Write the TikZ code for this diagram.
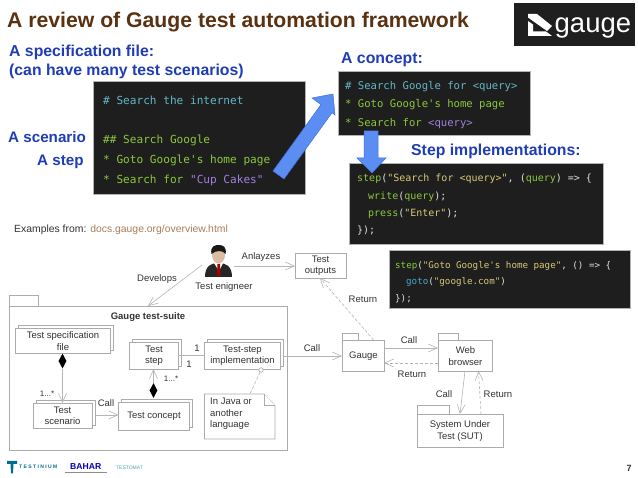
\documentclass[tikz,border=0pt]{standalone}
\usepackage{fontspec}
\setmainfont{Liberation Sans}
\newfontfamily\codefont{DejaVu Sans Mono}
\usetikzlibrary{arrows.meta,shapes.geometric}
\definecolor{titlecol}{HTML}{5A3212}
\definecolor{bluelab}{HTML}{1F3DB4}
\definecolor{codebg}{HTML}{1E1E1E}
\definecolor{cheading}{HTML}{62B8C8}
\definecolor{cgreen}{HTML}{8CC83C}
\definecolor{cpurple}{HTML}{A080E0}
\definecolor{cstr}{HTML}{D8C878}
\definecolor{cblue}{HTML}{4AA8D0}
\definecolor{cwhite}{HTML}{E0E0E0}
\definecolor{umlline}{HTML}{B4B4B4}
\definecolor{umlbox}{HTML}{ABABAB}
\definecolor{umltext}{HTML}{333333}
\definecolor{arrowfill}{HTML}{5B8DF2}
\definecolor{arrowedge}{HTML}{3F70D8}
\definecolor{linkcol}{HTML}{A88058}
\tikzset{
  x=1pt,y=-1pt,
  titletext/.style={anchor=base west,inner sep=0,font=\fontsize{21.2}{21.2}\selectfont\bfseries,text=titlecol},
  bluetext/.style={anchor=base west,inner sep=0,font=\fontsize{15.8}{16}\selectfont\bfseries,text=bluelab},
  bluesmall/.style={bluetext,font=\fontsize{15.2}{16}\selectfont\bfseries},
  codepanel/.style={fill=codebg,draw=gray!60,line width=.4pt},
  codeline/.style={anchor=base west,inner sep=0},
  umllab/.style={inner sep=0,font=\fontsize{9.5}{11.5}\selectfont,text=umltext,align=center},
  umlb/.style={draw=umlbox,fill=white,line width=.6pt},
  conn/.style={draw=umlline,line width=.6pt},
  openarr/.style={conn,-{Straight Barb[length=9pt,width=8pt]}},
  retn/.style={openarr,dash pattern=on 3pt off 2pt},
  bigarrow/.style={fill=arrowfill,draw=arrowedge,line width=.5pt},
  blackdiamond/.style={diamond,fill=black,inner sep=0,minimum width=8pt,minimum height=15pt,draw=none,aspect=.5}
}
\newcommand{\stackbox}[5]{% name, x1,y1,x2,y2
  \draw[umlb] (#2+3,#3-3) rectangle (#4+3,#5-3);
  \draw[umlb] (#2,#3) rectangle (#4,#5);
  \coordinate (#1) at ({(#2+#4)/2},{(#3+#5)/2});
}
\begin{document}
\begin{tikzpicture}
\useasboundingbox (0,0) rectangle (638,478);
\fill[white] (0,0) rectangle (638,478);

% Title + logo
\node[titletext] (title) at (7,27.5) {A review of Gauge test automation framework};
\fill[black!88] (514,3) rectangle (635,46);
\fill[white] (528,14) -- (537,14) -- (552,26) -- (547,31) -- (528,17.5) -- cycle;
\fill[white] (528,21) -- (533,24.5) -- (533,31.5) -- (546,31.5) -- (552,36) -- (528,36) -- cycle;
\node[anchor=base west,inner sep=0,text=white,font=\fontsize{27.5}{27.5}\selectfont] (logo) at (554.5,33) {gauge};

% Blue labels
\node[bluetext] (l1) at (9,56.5) {A specification file:};
\node[bluetext] (l2) at (9,76) {(can have many test scenarios)};
\node[bluesmall] (l3) at (8,142.5) {A scenario};
\node[bluesmall] (l4) at (37,165.5) {A step};
\node[bluetext] (l5) at (341,63.5) {A concept:};
\node[bluetext] (l6) at (411,155.5) {Step implementations:};

% Code panels
\filldraw[codepanel] (93,81) rectangle (305,194);
\filldraw[codepanel] (338,71) rectangle (530,135);
\filldraw[codepanel] (349,163) rectangle (603,244);
\filldraw[codepanel] (389,250) rectangle (630,308);

\begin{scope}[every node/.append style={codeline,font=\fontsize{11.1}{11.1}\selectfont\codefont}]
\node[text=cheading] (a1) at (103,105) {\# Search the internet};
\node[text=cgreen] (a2) at (103,144) {\#\# Search Google};
\node[text=cgreen] (a3) at (103,164) {* Goto Google's home page};
\node[text=cgreen] (a4) at (103,183.5) {* Search for \textcolor{cpurple}{"Cup Cakes"}};
\end{scope}
\begin{scope}[every node/.append style={codeline,font=\fontsize{10.6}{10.6}\selectfont\codefont}]
\node[text=cheading] (b1) at (345,90) {\# Search Google for <query>};
\node[text=cgreen] (b2) at (345,108) {* Goto Google's home page};
\node[text=cgreen] (b3) at (345,127) {* Search for \textcolor{cpurple}{<query>}};
\end{scope}
\begin{scope}[every node/.append style={codeline,font=\fontsize{10}{10}\selectfont\codefont}]
\node[text=cwhite] (c1) at (357,182) {\textcolor{cgreen}{step}(\textcolor{cstr}{"Search for <query>"}, (\textcolor{cgreen}{query}) => \{};
\node[text=cwhite] (c2) at (368,199.5) {\textcolor{cgreen}{write}(\textcolor{cgreen}{query});};
\node[text=cwhite] (c3) at (368,217) {\textcolor{cgreen}{press}(\textcolor{cstr}{"Enter"});};
\node[text=cwhite] (c4) at (357,234) {\});};
\end{scope}
\begin{scope}[every node/.append style={codeline,font=\fontsize{9.2}{9.2}\selectfont\codefont}]
\node[text=cwhite] (d1) at (395,268.5) {\textcolor{cgreen}{step}(\textcolor{cstr}{"Goto Google's home page"}, () => \{};
\node[text=cwhite] (d2) at (406,285) {\textcolor{cblue}{goto}(\textcolor{cstr}{"google.com"})};
\node[text=cwhite] (d3) at (395,301.5) {\});};
\end{scope}

% Big arrows
\filldraw[bigarrow] (273,171) -- (284,179) -- (332,112.8) -- (335,115) -- (333,94) -- (312,98) -- (321,104.6) -- cycle;
\filldraw[bigarrow] (364,131) -- (378,131) -- (378,158) -- (386,158) -- (372,173) -- (357,158) -- (364,158) -- cycle;

% Examples
\node[anchor=base west,inner sep=0,font=\fontsize{10.4}{10.4}\selectfont,text=umltext] (ex) at (14,233) {Examples from: \textcolor{linkcol}{docs.gauge.org/overview.html}};

% Page number
\node[anchor=base,inner sep=0,font=\fontsize{9}{9}\selectfont\bfseries,text=umltext] (pg) at (629,472) {7};

% Test engineer person
\fill[black!85] (205,277) .. controls (205,266) and (211,263) .. (218,263) .. controls (226,263) and (232,266) .. (232,277) -- cycle;
\fill[white] (214,263) -- (223,263) -- (219,271) -- cycle;
\fill[red!65!black] (217.5,264) -- (220,264) -- (220.5,275) -- (219,277) -- (217,275) -- cycle;
\fill[orange!25!white!85!black] (218.5,255) ellipse (6.5pt and 8.5pt);
\fill[black!90] (211.5,254) .. controls (210,246) and (215,245) .. (219,245) .. controls (223,245) and (227,247) .. (225.5,254) .. controls (223,250) and (216,250) .. (211.5,254) -- cycle;

% Outputs box
\draw[umlb] (295,253) rectangle (346,278);
\node[umllab] (outputs) at (320.5,265.5) {Test\\outputs};
\node[umllab] (eng) at (224,287) {Test enigneer};
\node[umllab] (an) at (261,257) {Anlayzes};
\node[umllab] (dev) at (157,279) {Develops};

% Suite package
\draw[umlb] (9,295) rectangle (38,306);
\draw[umlb] (9,306) rectangle (287,450);
\node[umllab,font=\fontsize{9.5}{11}\selectfont\bfseries] (suite) at (148,317.5) {Gauge test-suite};

% inner boxes
\stackbox{spec}{15}{328}{110.5}{353}
\stackbox{tstep}{129.5}{342}{178}{369}
\stackbox{impl}{204.5}{342}{280.5}{369}
\stackbox{scen}{33}{403}{92}{428}
\stackbox{conc}{118.5}{402}{189}{430}
\node[umllab] (specT) at (63,341) {Test specification\\file};
\node[umllab] (stepT) at (154,355.5) {Test\\step};
\node[umllab] (implT) at (242.5,355.5) {Test-step\\implementation};
\node[umllab] (scenT) at (62.5,416) {Test\\scenario};
\node[umllab] (concT) at (154,416) {Test concept};

% note
\draw[umlb] (204.5,394) -- (264,394) -- (275,405.5) -- (275,439) -- (204.5,439) -- cycle;
\draw[umlb] (264,394) -- (264,405.5) -- (275,405.5);
\node[umllab,align=left,anchor=north west] (note) at (210,398) {In Java or\\another\\language};
\coordinate (noteTop) at (250,394);
\node[circle,draw=umlbox,fill=white,line width=.6pt,inner sep=0,minimum size=4.5pt] (implDot) at (261,370) {};
\draw[conn,dash pattern=on 3pt off 2pt] (implDot) -- (noteTop);

% compositions
\node[blackdiamond] (d1x) at (62.5,361) {};
\node[blackdiamond] (d2x) at (153.5,390.5) {};
\coordinate (scenTop) at (62.5,403);
\coordinate (stepBot) at (153.5,369);
\draw[openarr] (d1x.south) -- (scenTop);
\draw[openarr] (d2x.north) -- (stepBot);
\node[umllab,font=\fontsize{8}{8}\selectfont] (m1) at (47,394) {1...*};
\node[umllab,font=\fontsize{8}{8}\selectfont] (m2) at (171,379) {1...*};

% call scenario-concept
\coordinate (scenR) at (95,415);
\coordinate (concL) at (118.5,415);
\draw[openarr] (scenR) -- (concL);
\node[umllab] (callA) at (106,403.5) {Call};

% step-impl
\coordinate (stepR) at (178,355.5);
\coordinate (implL) at (204.5,355.5);
\draw[conn] (stepR) -- (implL);
\node[umllab] (o1) at (197,348) {1};
\node[umllab] (o2) at (189,364) {1};

% packages
\draw[umlb] (342,333) rectangle (358,340);
\draw[umlb] (342,340) rectangle (384,371);
\draw[umlb] (438,333) rectangle (458,340);
\draw[umlb] (438,340) rectangle (492,371);
\draw[umlb] (417,405.5) rectangle (449,414);
\draw[umlb] (417,414) rectangle (503,447);
\node[umllab] (gauge) at (363.5,356) {Gauge};
\node[umllab] (web) at (465.5,356) {Web\\browser};
\node[umllab] (sut) at (460,431) {System Under\\Test (SUT)};

% connectors
\coordinate (implR) at (283,356);
\coordinate (gaugeL) at (342,356);
\draw[openarr] (implR) -- (gaugeL);
\node[umllab] (callB) at (312,348) {Call};

\coordinate (pL) at (202,265);
\coordinate (suiteTop) at (148,306);
\draw[openarr] (pL) -- (suiteTop);
\coordinate (pR) at (234,266);
\coordinate (outL) at (295,266);
\draw[openarr] (pR) -- (outL);

\coordinate (gaugeTop) at (373.5,340);
\coordinate (outB) at (320,278);
\draw[retn] (gaugeTop) -- (outB);
\node[umllab] (retA) at (363,299.5) {Return};

\coordinate (g1) at (384,348);
\coordinate (w1) at (438,348);
\draw[openarr] (g1) -- (w1);
\node[umllab] (callC) at (409,340) {Call};
\coordinate (w2) at (438,363);
\coordinate (g2) at (384,363);
\draw[retn] (w2) -- (g2);
\node[umllab] (retB) at (412,374) {Return};

\coordinate (w3) at (465,371);
\coordinate (s3) at (460,414);
\draw[openarr] (w3) -- (s3);
\node[umllab] (callD) at (444,394) {Call};
\coordinate (s4) at (481,414);
\coordinate (w4) at (478.5,371);
\draw[retn] (s4) -- (w4);
\node[umllab] (retC) at (498,394) {Return};

% Footer logos
\fill[teal!85!blue] (7,461) -- (17,461) -- (17,464) -- (13.5,464) -- (13,473.5) -- (11,473.5) -- (10.5,464) -- (7,464) -- cycle;
\node[anchor=base west,inner sep=0,font=\fontsize{5}{5}\selectfont\bfseries,text=teal!85!blue] (tst) at (19,469) {T E S T I N I U M};
\node[anchor=base west,inner sep=0,font=\fontsize{8.6}{9}\selectfont\bfseries,text=blue!70!black] (bah) at (70,470) {BAHAR};
\fill[black!45] (65,472.5) rectangle (107,473.5);
\node[anchor=center,inner sep=0,font=\fontsize{5}{5}\selectfont,text=teal!70] (tsm) at (129.5,468) {TESTOMAT};
\end{tikzpicture}
\end{document}
